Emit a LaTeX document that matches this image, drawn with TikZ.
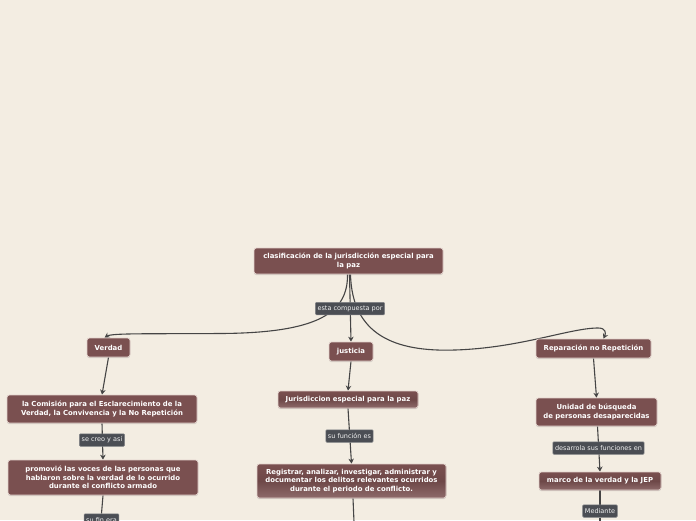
\documentclass[tikz,border=0pt]{standalone}
\usepackage{fontspec}
\setmainfont{DejaVu Sans}
\usetikzlibrary{arrows.meta,shadows}
\definecolor{bg}{HTML}{F3EDE2}
\definecolor{nodefill}{HTML}{7A5050}
\definecolor{lblfill}{HTML}{4B4E54}
\definecolor{linec}{HTML}{454545}
\definecolor{nodeline}{HTML}{E2D2CC}
\pgfdeclarelayer{bglayer}
\pgfdeclarelayer{lines}
\pgfsetlayers{bglayer,lines,main}
\begin{document}
\begin{tikzpicture}[x=1pt,y=-1pt,
  box/.style={draw=nodeline, line width=0.7pt, fill=nodefill, rounded corners=2.5pt,
    text=white, font=\fontsize{6.9}{8.7}\selectfont\bfseries, align=center,
    inner sep=1pt, drop shadow={shadow xshift=0pt, shadow yshift=-1.2pt, opacity=0.25}},
  gbox/.style={box, top color=nodefill, bottom color=nodefill!85!white, middle color=nodefill!90!black},
  lbl/.style={draw=lblfill!70!white, line width=0.5pt, fill=lblfill, rounded corners=1pt,
    text=white!92!lblfill, font=\fontsize{6.5}{7}\selectfont, inner xsep=2.2pt, inner ysep=0pt,
    minimum height=12.5pt},
  conn/.style={draw=linec, line width=1.1pt, -{Stealth[length=5pt,width=5.5pt]}},
  plain/.style={draw=linec, line width=1.1pt}]
\begin{pgfonlayer}{bglayer}
\fill[bg] (0,0) rectangle (696,520);
\end{pgfonlayer}
\clip (0,0) rectangle (696,520);
\useasboundingbox (0,0) rectangle (696,520);

% nodes
\node[box, minimum width=189pt, minimum height=26pt] (main) at (348.5,261)
  {clasificación de la jurisdicción especial para\\la paz};
\node[lbl] (lab1) at (350,308.5) {esta compuesta por};
\node[box, minimum width=43pt, minimum height=19pt] (verdad) at (108.5,347.5) {Verdad};
\node[box, minimum width=44pt, minimum height=19pt] (justicia) at (351,351.5) {justicia};
\node[box, minimum width=115pt, minimum height=19pt] (rep) at (593.5,348.5) {Reparación no Repetición};

\node[box, minimum width=190pt, minimum height=28pt] (comision) at (102,409)
  {la Comisión para el Esclarecimiento de la\\Verdad, la Convivencia y la No Repetición};
\node[lbl] (lab2) at (102,440) {se creo y así};
\node[box, minimum width=190pt, minimum height=35pt] (promovio) at (103,477.5)
  {promovió las voces de las personas que\\hablaron sobre la verdad de lo ocurrido\\durante el conflicto armado};
\node[lbl] (lab3) at (101.5,520) {su fin era};

\node[gbox, minimum width=140pt, minimum height=17pt] (jur) at (348,399.5) {Jurisdiccion especial para la paz};
\node[lbl] (lab4) at (349.5,436) {su función es};
\node[gbox, minimum width=189pt, minimum height=34pt] (reg) at (351.5,481)
  {Registrar, analizar, investigar, administrar y\\documentar los delitos relevantes ocurridos\\durante el periodo de conflicto.};

\node[box, minimum width=121pt, minimum height=28pt] (unidad) at (596.5,412)
  {Unidad de búsqueda\\de personas desaparecidas};
\node[lbl] (lab5) at (598.5,448) {desarrola sus funciones en};
\node[gbox, minimum width=122pt, minimum height=18pt] (marco) at (600,481) {marco de la verdad y la JEP};
\node[lbl] (lab6) at (600,511) {Mediante};

\coordinate (regend) at (354,522);
\coordinate (medend) at (600,522);

% connectors
\begin{pgfonlayer}{lines}
\draw[conn] ([xshift=-1pt]main.south) .. controls (348,312) and (320,333) .. (220,333.5)
   .. controls (150,334) and (112,333) .. ([xshift=-4pt]verdad.north);
\draw[conn] ([xshift=1pt]main.south) -- (justicia.north);
\draw[conn] ([xshift=2pt]main.south) .. controls (352,335) and (395,352) .. (455,350)
   .. controls (520,348) and (570,328) .. (598,328)
   .. controls (606,328) and (606,333) .. ([xshift=10pt]rep.north);
\draw[conn] (verdad.south) -- (comision.north);
\draw[conn] (comision.south) -- (promovio.north);
\draw[plain] (promovio.south) -- (lab3.north);
\draw[conn] (justicia.south) -- (jur.north);
\draw[conn] (jur.south) -- (reg.south |- reg.north);
\draw[plain] ([xshift=1.5pt]reg.south) -- (regend);
\draw[conn] (rep.south) -- (unidad.north);
\draw[conn] ([xshift=1pt]unidad.south) -- (marco.north);
\draw[plain] (marco.south) -- (lab6.north);
\draw[plain] (lab6.south) -- (medend);
\end{pgfonlayer}
\end{tikzpicture}
\end{document}
